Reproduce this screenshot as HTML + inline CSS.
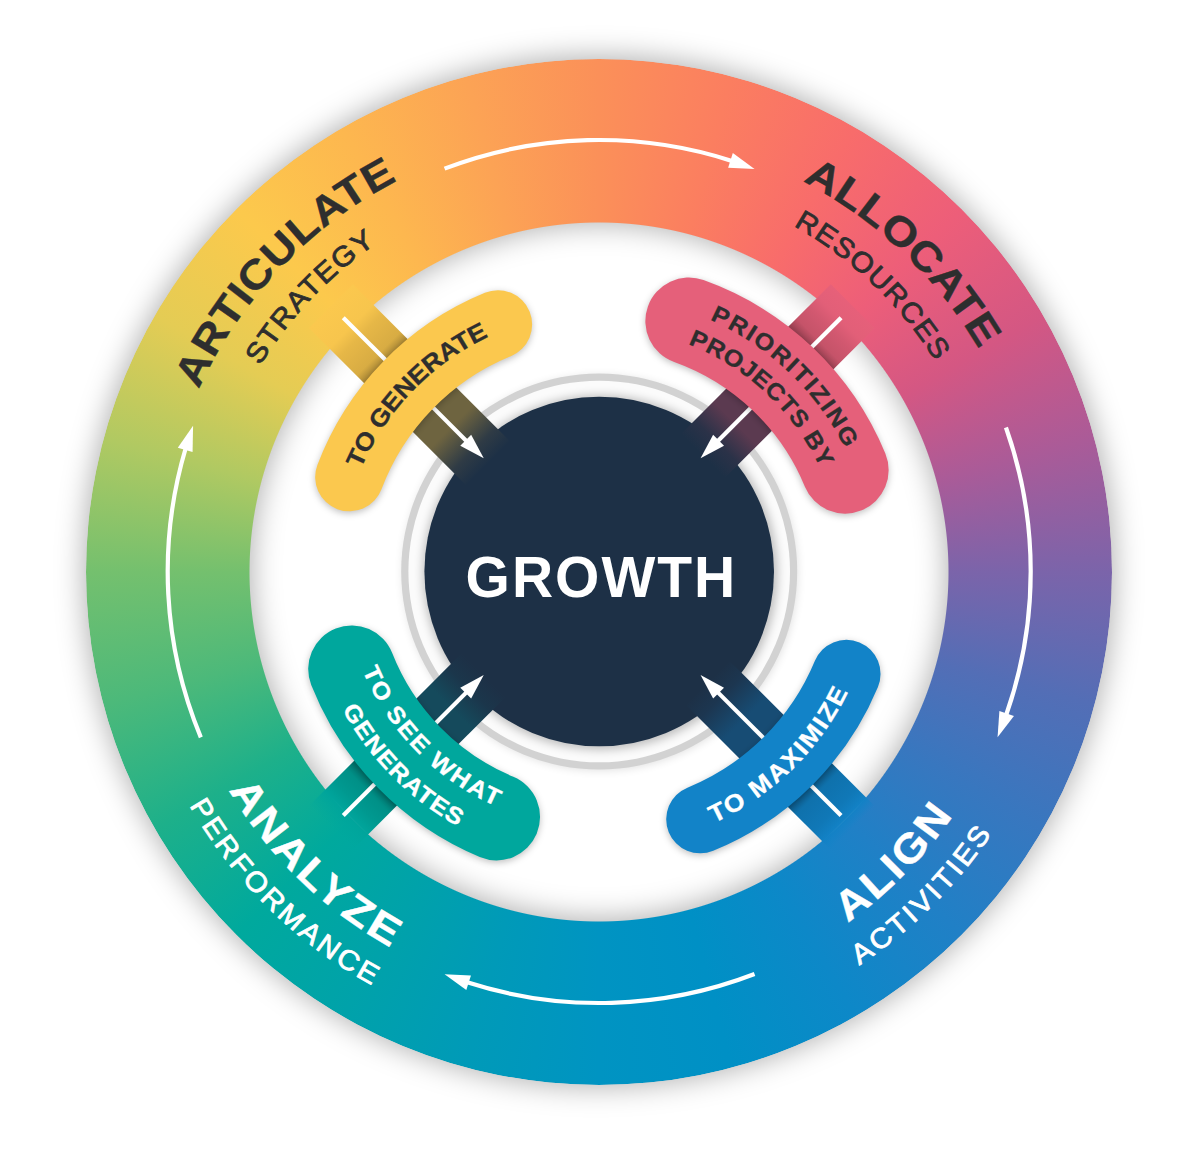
<!DOCTYPE html>
<html lang="en"><head><meta charset="utf-8"><title>Growth cycle</title>
<style>
html,body{margin:0;padding:0;background:#fff}
#wrap{position:relative;width:1199px;height:1159px;overflow:hidden;background:#fff}
#wrap svg{position:absolute;left:0;top:0}
#ring{position:absolute;left:86.20px;top:58.50px;width:1026.00px;height:1026.00px;border-radius:50%;
background:conic-gradient(from 0deg at 50% 50%, #fb9059 0deg, #fb7e60 15deg, #f86c6b 30deg, #ed5e79 45deg, #d45783 60deg, #aa5b98 75deg, #7b64aa 90deg, #536eb6 105deg, #3877bf 120deg, #2080c6 135deg, #0d88c8 150deg, #0090c5 165deg, #0094c2 180deg, #009ab8 195deg, #00a2aa 210deg, #00a99d 225deg, #1db08a 240deg, #4cb97a 255deg, #74c06e 270deg, #b0c962 285deg, #e4cc54 300deg, #fcc94c 315deg, #fdb74f 330deg, #fca355 345deg, #fb9059 360deg);
-webkit-mask:radial-gradient(circle at 50% 50%, transparent 349.0px, #000 350.0px);
mask:radial-gradient(circle at 50% 50%, transparent 349.0px, #000 350.0px);}
text{font-family:"Liberation Sans",sans-serif}
.h{font-weight:700}
</style></head><body><div id="wrap">

<svg width="1199" height="1159" viewBox="0 0 1199 1159">
<defs><filter id="b6" filterUnits="userSpaceOnUse" x="0" y="0" width="1199" height="1159"><feGaussianBlur stdDeviation="6"/></filter>
<filter id="b13" filterUnits="userSpaceOnUse" x="0" y="0" width="1199" height="1159"><feGaussianBlur stdDeviation="14.5"/></filter>
<clipPath id="chole"><circle cx="599.2" cy="571.5" r="350.5"/></clipPath></defs>
<circle cx="599.2" cy="571.5" r="431.25" fill="none" stroke="#000" stroke-opacity="0.31" stroke-width="167.5" filter="url(#b13)"/>
</svg>
<div id="ring"></div>

<svg width="1199" height="1159" viewBox="0 0 1199 1159">
<defs>
<filter id="b3" filterUnits="userSpaceOnUse" x="0" y="0" width="1199" height="1159"><feGaussianBlur stdDeviation="3.5"/></filter>
<filter id="b5" filterUnits="userSpaceOnUse" x="0" y="0" width="1199" height="1159"><feGaussianBlur stdDeviation="5"/></filter>
<clipPath id="cband"><circle cx="599.2" cy="571.5" r="191"/></clipPath>
<linearGradient id="giUL" gradientUnits="userSpaceOnUse" x1="433.34" y1="408.54" x2="488.29" y2="463.49"><stop offset="0" stop-color="#6e6440"/><stop offset="0.334" stop-color="#6e6440"/><stop offset="0.743" stop-color="#2f3b45"/><stop offset="1" stop-color="#1d3046"/></linearGradient>
<linearGradient id="goUL" gradientUnits="userSpaceOnUse" x1="330.88" y1="306.08" x2="384.90" y2="360.10"><stop offset="0" stop-color="#fbc84e" stop-opacity="0.85"/><stop offset="0.378" stop-color="#f7c54d"/><stop offset="0.549" stop-color="#e6b747"/><stop offset="0.882" stop-color="#d8ac43"/><stop offset="1" stop-color="#b08c37"/></linearGradient>
<linearGradient id="giUR" gradientUnits="userSpaceOnUse" x1="750.55" y1="408.25" x2="702.71" y2="456.09"><stop offset="0" stop-color="#5b3a50"/><stop offset="0.317" stop-color="#5b3a50"/><stop offset="0.704" stop-color="#2b3248"/><stop offset="1" stop-color="#1d3046"/></linearGradient>
<linearGradient id="goUR" gradientUnits="userSpaceOnUse" x1="852.72" y1="306.08" x2="812.06" y2="346.74"><stop offset="0" stop-color="#e5607a" stop-opacity="0.85"/><stop offset="0.321" stop-color="#e25f78"/><stop offset="0.547" stop-color="#d25870"/><stop offset="0.843" stop-color="#c55369"/><stop offset="1" stop-color="#a04355"/></linearGradient>
<linearGradient id="giLL" gradientUnits="userSpaceOnUse" x1="435.88" y1="722.92" x2="483.79" y2="675.01"><stop offset="0" stop-color="#154a5c"/><stop offset="0.317" stop-color="#154a5c"/><stop offset="0.705" stop-color="#1b364b"/><stop offset="1" stop-color="#1d3046"/></linearGradient>
<linearGradient id="goLL" gradientUnits="userSpaceOnUse" x1="330.88" y1="827.92" x2="374.36" y2="784.44"><stop offset="0" stop-color="#00a79d" stop-opacity="0.0"/><stop offset="0.367" stop-color="#00a49b"/><stop offset="0.578" stop-color="#009990"/><stop offset="0.854" stop-color="#009087"/><stop offset="1" stop-color="#00756e"/></linearGradient>
<linearGradient id="giLR" gradientUnits="userSpaceOnUse" x1="762.85" y1="738.05" x2="707.21" y2="682.41"><stop offset="0" stop-color="#174c74"/><stop offset="0.336" stop-color="#174c74"/><stop offset="0.746" stop-color="#1c3650"/><stop offset="1" stop-color="#1d3046"/></linearGradient>
<linearGradient id="goLR" gradientUnits="userSpaceOnUse" x1="852.72" y1="827.92" x2="811.07" y2="786.27"><stop offset="0" stop-color="#1283c8" stop-opacity="0.0"/><stop offset="0.205" stop-color="#1281c5"/><stop offset="0.426" stop-color="#1078b7"/><stop offset="0.847" stop-color="#0f71ac"/><stop offset="1" stop-color="#0d5c8c"/></linearGradient>
</defs>
<circle cx="600.2" cy="573.0" r="197" fill="#000" opacity="0.13" filter="url(#b5)"/>
<circle cx="599.2" cy="571.5" r="198" fill="#d2d2d2"/>
<circle cx="599.2" cy="571.5" r="190.8" fill="#fbfbfb"/>
<g clip-path="url(#cband)"><circle cx="600.2" cy="572.5" r="177.5" fill="#000" opacity="0.24" filter="url(#b5)"/></g>
<circle cx="599.2" cy="571.5" r="174.8" fill="#1d3046"/>
<polygon points="308.96,328.00 352.80,284.16 411.06,342.42 367.22,386.26" fill="url(#goUL)" />
<polygon points="407.17,426.22 451.02,382.37 510.21,441.57 466.37,485.41" fill="url(#giUL)" />
<polygon points="830.80,284.16 874.64,328.00 829.74,372.90 785.90,329.06" fill="url(#goUR)" />
<polygon points="732.87,382.09 776.71,425.93 724.63,478.01 680.79,434.17" fill="url(#giUR)" />
<polygon points="352.80,849.84 308.96,806.00 356.69,758.27 400.53,802.11" fill="url(#goLL)" />
<polygon points="453.56,749.08 409.72,705.24 461.87,653.09 505.71,696.93" fill="url(#giLL)" />
<polygon points="874.64,806.00 830.80,849.84 784.91,803.95 828.75,760.11" fill="url(#goLR)" />
<polygon points="789.01,720.37 745.17,764.21 685.29,704.33 729.13,660.49" fill="url(#giLR)" />
<line x1="343.25" y1="317.75" x2="388.08" y2="362.58" stroke="#fff" stroke-width="4.2"/><line x1="430.86" y1="405.36" x2="466.43" y2="440.93" stroke="#fff" stroke-width="4.2"/><polygon points="483.75,458.25 471.16,434.77 460.27,445.66" fill="#fff"/>
<line x1="841.05" y1="317.75" x2="809.59" y2="349.21" stroke="#fff" stroke-width="4.2"/><line x1="753.72" y1="405.08" x2="717.87" y2="440.93" stroke="#fff" stroke-width="4.2"/><polygon points="700.55,458.25 724.03,445.66 713.14,434.77" fill="#fff"/>
<line x1="343.25" y1="815.55" x2="377.54" y2="781.26" stroke="#fff" stroke-width="4.2"/><line x1="433.40" y1="725.40" x2="466.43" y2="692.37" stroke="#fff" stroke-width="4.2"/><polygon points="483.75,675.05 460.27,687.64 471.16,698.53" fill="#fff"/>
<line x1="841.05" y1="815.55" x2="808.60" y2="783.10" stroke="#fff" stroke-width="4.2"/><line x1="766.03" y1="740.53" x2="717.87" y2="692.37" stroke="#fff" stroke-width="4.2"/><polygon points="700.55,675.05 713.14,698.53 724.03,687.64" fill="#fff"/>
<path d="M349.44 477.12A267.00 267.00 0 0 1 497.89 324.47" transform="translate(0,2)" fill="none" stroke="#000" stroke-opacity="0.25" stroke-width="68.5" stroke-linecap="round" filter="url(#b3)"/>
<path d="M688.87 321.07A266.00 266.00 0 0 1 845.13 470.14" transform="translate(0,2)" fill="none" stroke="#000" stroke-opacity="0.25" stroke-width="87.0" stroke-linecap="round" filter="url(#b3)"/>
<path d="M496.55 816.90A266.00 266.00 0 0 1 351.71 668.99" transform="translate(0,2)" fill="none" stroke="#000" stroke-opacity="0.25" stroke-width="87.0" stroke-linecap="round" filter="url(#b3)"/>
<path d="M846.43 673.91A267.60 267.60 0 0 1 700.31 819.26" transform="translate(0,2)" fill="none" stroke="#000" stroke-opacity="0.25" stroke-width="68.2" stroke-linecap="round" filter="url(#b3)"/>
<path d="M349.44 477.12A267.00 267.00 0 0 1 497.89 324.47" fill="none" stroke="#fbc84e" stroke-width="68.5" stroke-linecap="round"/>
<path d="M688.87 321.07A266.00 266.00 0 0 1 845.13 470.14" fill="none" stroke="#e5607a" stroke-width="87.0" stroke-linecap="round"/>
<path d="M496.55 816.90A266.00 266.00 0 0 1 351.71 668.99" fill="none" stroke="#00a79d" stroke-width="87.0" stroke-linecap="round"/>
<path d="M846.43 673.91A267.60 267.60 0 0 1 700.31 819.26" fill="none" stroke="#1283c8" stroke-width="68.2" stroke-linecap="round"/>
<path d="M444.56 168.66A431.50 431.50 0 0 1 731.92 160.92" fill="none" stroke="#fff" stroke-width="4.2"/><polygon points="754.54,168.93 732.83,153.12 728.15,167.79" fill="#fff"/>
<path d="M1005.95 427.46A431.50 431.50 0 0 1 1006.17 714.93" fill="none" stroke="#fff" stroke-width="4.2"/><polygon points="997.57,737.32 1013.93,716.04 999.39,710.97" fill="#fff"/>
<path d="M754.54 974.07A431.50 431.50 0 0 1 467.19 982.31" fill="none" stroke="#fff" stroke-width="4.2"/><polygon points="444.56,974.34 466.30,990.11 470.96,975.43" fill="#fff"/>
<path d="M200.83 737.32A431.50 431.50 0 0 1 185.61 448.49" fill="none" stroke="#fff" stroke-width="4.2"/><polygon points="193.08,425.69 177.79,447.76 192.57,452.10" fill="#fff"/>
<path id="tp1" d="M244.96 832.48A440.00 440.00 0 0 1 842.82 205.10" fill="none"/><text id="t1" font-size="41" font-weight="700" letter-spacing="0.56" fill="#2e2e2e" stroke="#2e2e2e" stroke-width="0.4" stroke-linejoin="round"><textPath href="#tp1" startOffset="50%" text-anchor="middle" textLength="294.27" lengthAdjust="spacingAndGlyphs">ARTICULATE</textPath></text>
<path id="tp2" d="M280.14 806.90A396.50 396.50 0 0 1 818.50 241.17" fill="none"/><text id="t2" font-size="28" font-weight="400" letter-spacing="1.29" fill="#2e2e2e" stroke="#2e2e2e" stroke-width="0.8" stroke-linejoin="round"><textPath href="#tp2" startOffset="50%" text-anchor="middle" textLength="170.92" lengthAdjust="spacingAndGlyphs">STRATEGY</textPath></text>
<path id="tp3" d="M338.31 217.19A440.00 440.00 0 0 1 965.54 815.22" fill="none"/><text id="t3" font-size="41" font-weight="700" letter-spacing="0.18" fill="#2e2e2e" stroke="#2e2e2e" stroke-width="0.4" stroke-linejoin="round"><textPath href="#tp3" startOffset="50%" text-anchor="middle" textLength="247.08" lengthAdjust="spacingAndGlyphs">ALLOCATE</textPath></text>
<path id="tp4" d="M364.63 251.83A396.50 396.50 0 0 1 928.95 791.67" fill="none"/><text id="t4" font-size="28" font-weight="400" letter-spacing="1.20" fill="#2e2e2e" stroke="#2e2e2e" stroke-width="0.8" stroke-linejoin="round"><textPath href="#tp4" startOffset="50%" text-anchor="middle" textLength="199.46" lengthAdjust="spacingAndGlyphs">RESOURCES</textPath></text>
<path id="tp5" d="M242.92 330.74A430.00 430.00 0 0 0 851.64 919.60" fill="none"/><text id="t5" font-size="41" font-weight="700" letter-spacing="2.38" fill="#fff" stroke="#fff" stroke-width="0.4" stroke-linejoin="round"><textPath href="#tp5" startOffset="50%" text-anchor="middle" textLength="231.33" lengthAdjust="spacingAndGlyphs">ANALYZE</textPath></text>
<path id="tp6" d="M209.51 305.18A472.00 472.00 0 0 0 874.30 955.04" fill="none"/><text id="t6" font-size="28" font-weight="400" letter-spacing="2.70" fill="#fff" stroke="#fff" stroke-width="0.8" stroke-linejoin="round"><textPath href="#tp6" startOffset="50%" text-anchor="middle" textLength="262.39" lengthAdjust="spacingAndGlyphs">PERFORMANCE</textPath></text>
<path id="tp7" d="M355.65 925.87A430.00 430.00 0 0 0 949.27 321.80" fill="none"/><text id="t7" font-size="41" font-weight="700" letter-spacing="2.47" fill="#fff" stroke="#fff" stroke-width="0.4" stroke-linejoin="round"><textPath href="#tp7" startOffset="50%" text-anchor="middle" textLength="153.86" lengthAdjust="spacingAndGlyphs">ALIGN</textPath></text>
<path id="tp8" d="M328.47 958.14A472.00 472.00 0 0 0 985.84 300.77" fill="none"/><text id="t8" font-size="28" font-weight="400" letter-spacing="2.75" fill="#fff" stroke="#fff" stroke-width="0.8" stroke-linejoin="round"><textPath href="#tp8" startOffset="50%" text-anchor="middle" textLength="190.77" lengthAdjust="spacingAndGlyphs">ACTIVITIES</textPath></text>
<path id="tp9" d="M389.26 724.03A259.50 259.50 0 0 1 744.31 356.36" fill="none"/><text id="t9" font-size="24.5" font-weight="700" letter-spacing="-0.28" fill="#2e2e2e" stroke="#2e2e2e" stroke-width="0.3" stroke-linejoin="round"><textPath href="#tp9" startOffset="50%" text-anchor="middle" textLength="187.81" lengthAdjust="spacingAndGlyphs">TO GENERATE</textPath></text>
<path id="tp10" d="M436.59 349.73A275.00 275.00 0 0 1 827.85 724.28" fill="none"/><text id="t10" font-size="23.5" font-weight="700" letter-spacing="1.69" fill="#2e2e2e" stroke="#2e2e2e" stroke-width="0.3" stroke-linejoin="round"><textPath href="#tp10" startOffset="50%" text-anchor="middle" textLength="192.46" lengthAdjust="spacingAndGlyphs">PRIORITIZING</textPath></text>
<path id="tp11" d="M453.04 376.12A244.00 244.00 0 0 1 803.37 705.11" fill="none"/><text id="t11" font-size="23.5" font-weight="700" letter-spacing="0.60" fill="#2e2e2e" stroke="#2e2e2e" stroke-width="0.3" stroke-linejoin="round"><textPath href="#tp11" startOffset="50%" text-anchor="middle" textLength="186.21" lengthAdjust="spacingAndGlyphs">PROJECTS BY</textPath></text>
<path id="tp12" d="M389.86 423.28A256.50 256.50 0 0 0 745.22 782.38" fill="none"/><text id="t12" font-size="23.5" font-weight="700" letter-spacing="1.78" fill="#fff" stroke="#fff" stroke-width="0.3" stroke-linejoin="round"><textPath href="#tp12" startOffset="50%" text-anchor="middle" textLength="197.39" lengthAdjust="spacingAndGlyphs">TO SEE WHAT</textPath></text>
<path id="tp13" d="M361.30 403.05A291.50 291.50 0 0 0 765.14 811.15" fill="none"/><text id="t13" font-size="23.5" font-weight="700" letter-spacing="1.04" fill="#fff" stroke="#fff" stroke-width="0.3" stroke-linejoin="round"><textPath href="#tp13" startOffset="50%" text-anchor="middle" textLength="168.01" lengthAdjust="spacingAndGlyphs">GENERATES</textPath></text>
<path id="tp14" d="M438.64 796.60A276.50 276.50 0 0 0 827.07 414.89" fill="none"/><text id="t14" font-size="24.5" font-weight="700" letter-spacing="1.68" fill="#fff" stroke="#fff" stroke-width="0.3" stroke-linejoin="round"><textPath href="#tp14" startOffset="50%" text-anchor="middle" textLength="193.42" lengthAdjust="spacingAndGlyphs">TO MAXIMIZE</textPath></text>
<text x="601.4" y="596.8" text-anchor="middle" font-size="57" font-weight="700" letter-spacing="2.0" fill="#fff">GROWTH</text>
</svg>
</div></body></html>
